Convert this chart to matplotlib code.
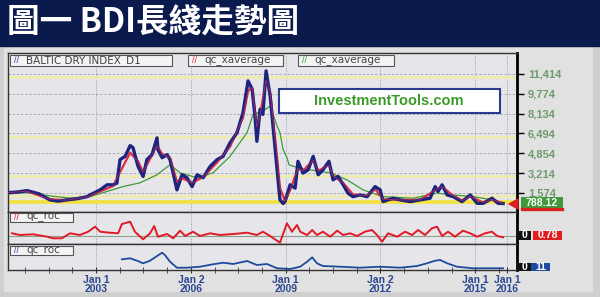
import numpy as np
import matplotlib
matplotlib.use("Agg")
import matplotlib.pyplot as plt
from matplotlib.patches import Rectangle, Polygon

plt.rcParams['font.family'] = ['Liberation Sans', 'DejaVu Sans']

# ---- data (year, value) ----
bdi_t = [2000.22, 2000.50, 2000.82, 2001.20, 2001.54, 2001.80, 2002.08, 2002.40, 2002.72, 2002.81,
         2003.13, 2003.35, 2003.54, 2003.66, 2003.76, 2003.92, 2004.08, 2004.17, 2004.33, 2004.49,
         2004.61, 2004.77, 2004.93, 2004.96, 2005.09, 2005.25, 2005.34, 2005.44, 2005.56, 2005.72,
         2005.88, 2006.04, 2006.20, 2006.39, 2006.61, 2006.83, 2007.02, 2007.24, 2007.46, 2007.65,
         2007.81, 2007.94, 2008.03, 2008.09, 2008.19, 2008.28, 2008.38, 2008.51, 2008.60, 2008.73,
         2008.82, 2008.92, 2008.98, 2009.14, 2009.30, 2009.39, 2009.55, 2009.71, 2009.87, 2010.03,
         2010.18, 2010.37, 2010.50, 2010.66, 2010.82, 2010.97, 2011.13, 2011.35, 2011.58, 2011.83,
         2011.99, 2012.08, 2012.40, 2012.62, 2012.94, 2013.25, 2013.57, 2013.73, 2013.82, 2013.95,
         2014.11, 2014.30, 2014.58, 2014.84, 2015.06, 2015.25, 2015.53, 2015.72, 2015.88]
bdi_v = [1600, 1650, 1770, 1500, 1000, 900, 1000, 1100, 1270, 1414,
         1830, 2250, 2250, 2390, 4330, 4600, 5490, 5320, 3770, 2940,
         4330, 4740, 6130, 5160, 4490, 4740, 4330, 3240, 1830, 3080,
         2830, 2100, 3080, 2830, 3770, 4330, 4600, 5720, 6550, 8210,
         10840, 10150, 7930, 5850, 8490, 8070, 11670, 9590, 7100, 3490,
         1000, 700, 860, 2250, 1970, 4190, 3220, 3490, 4600, 3080,
         3490, 4190, 2660, 2940, 2250, 1560, 1270, 1410, 1270, 2100,
         1830, 860, 1140, 1000, 860, 1000, 1140, 2100, 1690, 2250,
         1410, 1270, 860, 1410, 720, 720, 1140, 720, 700]

fast_t = [2000.22, 2000.82, 2001.54, 2002.08, 2002.72, 2003.13, 2003.54, 2003.76, 2004.08, 2004.33,
          2004.49, 2004.61, 2004.93, 2005.09, 2005.34, 2005.56, 2005.72, 2006.04, 2006.39, 2006.83,
          2007.24, 2007.65, 2007.81, 2007.94, 2008.09, 2008.19, 2008.38, 2008.51, 2008.73, 2008.82,
          2008.98, 2009.14, 2009.39, 2009.55, 2009.87, 2010.03, 2010.37, 2010.50, 2010.82, 2011.13,
          2011.58, 2011.83, 2012.08, 2012.62, 2013.25, 2013.73, 2013.95, 2014.30, 2014.58, 2014.84,
          2015.25, 2015.53, 2015.88]
fast_v = [1600, 1720, 1050, 980, 1250, 1700, 2150, 3300, 4900, 4200,
          3300, 3900, 5500, 4800, 4500, 2500, 2800, 2400, 2900, 4100,
          5400, 7800, 10000, 10300, 7000, 8000, 10900, 9900, 4500, 2000,
          900, 1800, 3600, 3400, 4300, 3400, 3900, 3000, 2400, 1450,
          1350, 1900, 1050, 1000, 1000, 1800, 2100, 1350, 950, 1300,
          780, 1050, 700]

slow_t = [2000.22, 2000.82, 2001.64, 2002.18, 2002.81, 2003.85, 2004.39, 2004.93, 2005.34, 2005.66,
          2006.20, 2006.70, 2007.24, 2007.78, 2007.97, 2008.28, 2008.51, 2008.73, 2008.82, 2008.92,
          2009.04, 2009.11, 2009.46, 2010.41, 2010.94, 2011.45, 2012.08, 2013.03, 2013.79, 2014.30,
          2014.93, 2015.56, 2015.88]
slow_v = [1500, 1600, 1300, 1150, 1270, 2100, 2410, 3080, 3910, 3240,
          2830, 3240, 4600, 6570, 8070, 8350, 8760, 7100, 6570, 5160,
          4500, 3900, 3600, 3240, 2660, 1830, 1270, 1140, 1560, 1410,
          1270, 1000, 770]

roc1_t = [2000.34, 2000.59, 2001.01, 2001.45, 2001.64, 2001.92, 2002.18, 2002.49, 2002.75, 2002.97,
          2003.13, 2003.44, 2003.70, 2003.82, 2004.08, 2004.23, 2004.49, 2004.71, 2004.84, 2004.96,
          2005.25, 2005.44, 2005.66, 2005.82, 2006.07, 2006.29, 2006.61, 2006.92, 2007.34, 2007.78,
          2008.09, 2008.28, 2008.51, 2008.82, 2009.04, 2009.20, 2009.36, 2009.46, 2009.68, 2009.84,
          2009.99, 2010.18, 2010.41, 2010.63, 2010.82, 2011.04, 2011.26, 2011.51, 2011.73, 2011.89,
          2012.05, 2012.24, 2012.53, 2012.78, 2013.00, 2013.19, 2013.41, 2013.63, 2013.79, 2013.95,
          2014.14, 2014.36, 2014.61, 2014.84, 2015.06, 2015.31, 2015.53, 2015.69, 2015.88]
roc1_v = [0.27, 0.10, 0.17, -0.07, -0.23, -0.23, 0.27, 0.10, 0.43, 0.93,
          0.43, 0.33, 0.27, 1.20, 1.43, 0.43, -0.33, 0.27, 1.00, -0.07,
          0.20, -0.23, 0.53, 0.00, 0.43, 0.00, 0.27, 0.10, 0.20, 0.33,
          0.10, 0.43, 0.00, -0.67, 1.27, 0.43, 1.10, 0.43, 0.10, 0.60,
          0.10, 0.43, -0.07, 0.53, 0.10, 0.27, 0.00, 0.43, 0.60, 0.10,
          -0.57, 0.27, -0.07, 0.43, 0.10, 0.60, 0.10, 0.77, 0.93, 0.00,
          0.43, -0.07, 0.53, 0.27, -0.07, 0.27, 0.43, 0.00, -0.13]

roc2_t = [2003.82, 2004.08, 2004.30, 2004.49, 2004.71, 2004.93, 2005.09, 2005.18, 2005.34, 2005.56,
          2005.88, 2006.29, 2006.70, 2007.02, 2007.34, 2007.78, 2008.09, 2008.41, 2008.73, 2009.14,
          2009.46, 2009.68, 2009.84, 2009.99, 2010.18, 2010.72, 2011.35, 2011.99, 2012.62, 2013.16,
          2013.47, 2013.73, 2013.89, 2014.11, 2014.42, 2014.93, 2015.56, 2015.88]
roc2_v = [0.97, 1.07, 0.83, 0.57, 0.83, 1.30, 1.63, 1.40, 0.73, 0.13,
          0.13, 0.23, 0.47, 0.63, 0.50, 0.80, 0.40, 0.50, 0.07, 0.00,
          0.23, 0.73, 1.17, 0.57, 0.30, 0.23, 0.13, 0.23, 0.13, 0.30,
          0.57, 0.83, 0.90, 0.57, 0.23, 0.07, 0.07, 0.07]

y_ticks = [1574, 3214, 4854, 6494, 8134, 9774, 11414]
yellow_rows = [1574, 3214, 6494, 11414]
last_value = 788.12
x_ticks = [2003, 2006, 2009, 2012, 2015, 2016]
x_labels = ['Jan 1\n2003', 'Jan 2\n2006', 'Jan 1\n2009', 'Jan 2\n2012', 'Jan 1\n2015', 'Jan 1\n2016']

W, H = 600, 297


def rect(x0, y0, x1, y1):
    return [x0 / W, 1 - y1 / H, (x1 - x0) / W, (y1 - y0) / H]


fig = plt.figure(figsize=(6, 2.97), dpi=100, facecolor='#cfcfcf')

# title bar and panel background
fig.patches.append(Rectangle((0, 1 - 46 / H), 1, 46 / H, transform=fig.transFigure,
                             color='#0b1a4c', zorder=-2))
fig.patches.append(Rectangle((4 / W, 1 - 291 / H), 588 / W, (291 - 48) / H,
                             transform=fig.transFigure, color='#e1e1e1', zorder=-2))
fig.text(7 / W, 1 - 23 / H, '圖一 BDI長綫走勢圖', color='white', fontsize=23.5,
         fontweight='bold', va='center', ha='left',
         family=['Noto Sans CJK TC', 'DejaVu Sans'])

x0, x1 = 2000.215, 2016.32
ax = fig.add_axes(rect(8, 53, 517, 212))
ax1 = fig.add_axes(rect(8, 212, 517, 244), sharex=ax)
ax2 = fig.add_axes(rect(8, 244, 517, 270), sharex=ax)

for a in (ax, ax1, ax2):
    a.set_zorder(1)
    a.set_facecolor('#e6e6ea')
    for s in ('left', 'top', 'bottom'):
        a.spines[s].set_color('#333333')
        a.spines[s].set_linewidth(1)
    a.spines['right'].set_color('black')
    a.spines['right'].set_linewidth(2)
    for xt in x_ticks:
        a.axvline(xt, color='#9a9aa6', lw=0.7, ls=(0, (1, 1.5)), zorder=1)

# main panel
ax.set_xlim(x0, x1)
ax.set_ylim(0, 13150)
for yv in yellow_rows:
    ax.axhline(yv - 250, color='#efeca8', lw=1.8, zorder=1)
for yv in y_ticks:
    ax.axhline(yv, color='#a4a4b4', lw=0.6, ls=(0, (3, 2)), zorder=1)
ax.axhline(last_value, color='#f3e23c', lw=2.6, zorder=2)
ax.plot(slow_t, slow_v, color='#3e9a3a', lw=0.9, zorder=3)
ax.plot(fast_t, fast_v, color='#e02a3a', lw=1.6, zorder=4)
ax.plot(bdi_t, bdi_v, color='#1c2480', lw=2.4, zorder=5)
ax.plot(fast_t, fast_v, color='#e83050', lw=0.6, alpha=0.7, zorder=6)
ax.yaxis.tick_right()
ax.set_yticks(y_ticks)
ax.set_yticklabels([f'{v:,}' for v in y_ticks])
ax.tick_params(axis='y', colors='black', labelcolor='#6f9a6f', length=5, width=1, labelsize=8,
               pad=3)
for lab in ax.get_yticklabels():
    lab.set_fontweight('bold')
ax.tick_params(axis='x', bottom=False, labelbottom=False)

# roc panels
ax1.set_ylim(-0.8, 2.4)
ax1.axhline(0, color='#8aa08a', lw=0.8, zorder=1)
ax1.plot(roc1_t, roc1_v, color='#e01a28', lw=1.4, zorder=3)
ax1.set_yticks([])
ax1.tick_params(axis='x', bottom=False, labelbottom=False)

ax2.set_ylim(-0.1, 2.5)
ax2.plot(roc2_t, roc2_v, color='#1e4a9a', lw=1.3, zorder=3)
ax2.set_yticks([])
ax2.set_xticks(x_ticks)
ax2.set_xticklabels(x_labels)
ax2.set_xticks(np.arange(2000.75, 2016.2, 0.75), minor=True)
ax2.tick_params(axis='x', which='both', direction='inout', length=5, color='#333333',
                labelsize=7.5, labelcolor='#2a4690', pad=1)
for lab in ax2.get_xticklabels():
    lab.set_fontweight('bold')
    lab.set_linespacing(0.95)
ax2.set_xlim(x0, x1)


# legend boxes
def legend_box(xa, ya, xb, yb, label, icon_color):
    fig.patches.append(Rectangle((xa / W, 1 - yb / H), (xb - xa) / W, (yb - ya) / H,
                                 transform=fig.transFigure, facecolor='#f4f4f4',
                                 edgecolor='#555555', lw=0.8, zorder=5))
    fig.text((xa + 4) / W, 1 - (ya + yb) / 2 / H, '//', color=icon_color, fontsize=6.5,
             va='center', ha='left', zorder=6)
    fig.text((xa + 16) / W, 1 - (ya + yb) / 2 / H, label, color='#444444', fontsize=7.5,
             va='center', ha='left', zorder=6, family='DejaVu Sans')


legend_box(10, 55, 172, 66, 'BALTIC DRY INDEX_D1', '#3040a0')
legend_box(188, 55, 283, 66, 'qc_xaverage', '#e02a3a')
legend_box(298, 55, 394, 66, 'qc_xaverage', '#3e9a3a')
legend_box(10, 213, 73, 222, 'qc_roc', '#e01a28')
legend_box(10, 246, 73, 255, 'qc_roc', '#1e4a9a')

# watermark box
fig.patches.append(Rectangle((279 / W, 1 - 113 / H), 221 / W, 24 / H, transform=fig.transFigure,
                             facecolor='white', edgecolor='#2a3a8c', lw=1.5, zorder=5))
fig.text(389 / W, 1 - 101 / H, 'InvestmentTools.com', color='#3c9a2a', fontsize=10.5,
         fontweight='bold', ha='center', va='center', zorder=6)


# right-side value tags
def tag(xa, ya, xb, yb, text, fc, tc='white'):
    fig.patches.append(Rectangle((xa / W, 1 - yb / H), (xb - xa) / W, (yb - ya) / H,
                                 transform=fig.transFigure, facecolor=fc, edgecolor='none',
                                 zorder=7))
    fig.text((xa + xb) / 2 / W, 1 - (ya + yb) / 2 / H, text, color=tc, fontsize=7.5,
             fontweight='bold', ha='center', va='center', zorder=8)


fig.patches.append(Polygon([(509 / W, 1 - 204 / H), (518 / W, 1 - 199 / H), (518 / W, 1 - 209 / H)],
                           closed=True, transform=fig.transFigure, color='#d82020', zorder=7))
tag(521, 197, 563, 208, f'{last_value:.2f}', '#3e9a3a')
fig.patches.append(Rectangle((521 / W, 1 - 210 / H), 42 / W, 2 / H, transform=fig.transFigure,
                             color='#d82020', zorder=7))
tag(517, 231, 531, 240, '0', '#111111')
tag(533, 231, 562, 240, '0.78', '#e02020')
tag(517, 263, 531, 271, '0', '#111111')
tag(531, 263, 550, 271, '11', '#1e4aa0')

fig.savefig('out.png', dpi=100, facecolor=fig.get_facecolor())
